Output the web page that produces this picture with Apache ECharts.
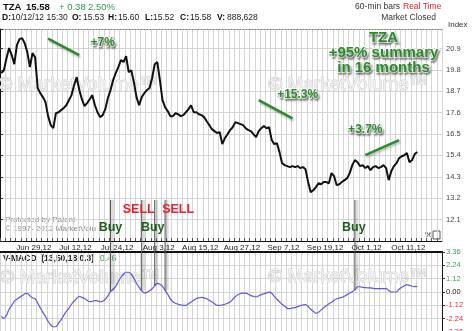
<!DOCTYPE html>
<html>
<head>
<meta charset="utf-8">
<script src="https://cdn.jsdelivr.net/npm/echarts@6/dist/echarts.min.js"></script>
<style>
html,body{margin:0;padding:0;background:#fff;}
#chart{width:474px;height:331px;}
</style>
</head>
<body>
<div id="chart"></div>
<script>
// Trading days shown on the chart (2012)
const tradingMonths = [
  ['Jun', [20,21,22,25,26,27,28,29]],
  ['Jul', [2,3,5,6,9,10,11,12,13,16,17,18,19,20,23,24,25,26,27,30,31]],
  ['Aug', [1,2,3,6,7,8,9,10,13,14,15,16,17,20,21,22,23,24,27,28,29,30,31]],
  ['Sep', [4,5,6,7,10,11,12,13,14,17,18,19,20,21,24,25,26,27,28]],
  ['Oct', [1,2,3,4,5,8,9,10,11,12,15,16,17,18,19]]
];
const dateLabels = ['Jun 29,12','Jul 12,12','Jul 24,12','Aug 3,12','Aug 15,12',
                    'Aug 27,12','Sep 7,12','Sep 19,12','Oct 1,12','Oct 11,12'];

// TZA close, two samples per session (from Jun 20 afternoon to Oct 12 close)
const tzaPrice = [
  19.63,19.78,20.40,20.92,20.56,20.09,21.07,21.38,21.43,21.17,
  20.71,19.94,20.66,20.45,18.86,18.60,18.40,18.14,17.42,16.96,
  16.80,17.57,17.62,17.73,17.83,17.98,18.24,18.50,19.01,19.42,
  18.76,18.29,17.93,18.09,18.29,18.50,17.98,17.62,17.37,17.47,
  17.78,18.35,18.76,19.27,19.63,19.94,20.30,20.20,20.50,19.68,
  19.78,19.17,18.40,17.98,18.40,18.60,18.76,18.86,19.37,20.09,
  20.20,19.27,18.24,17.88,17.68,17.42,17.42,17.57,17.52,17.42,
  17.47,17.62,17.78,17.98,17.62,17.62,17.52,17.47,17.37,17.16,
  16.96,16.75,16.65,16.55,16.60,15.98,16.29,16.49,16.70,16.85,
  17.11,17.06,17.01,16.96,16.80,16.70,16.65,16.49,16.34,16.65,
  16.80,16.91,16.80,16.85,16.19,15.98,16.03,15.57,15.00,14.90,
  14.85,14.80,14.85,14.80,14.85,14.75,14.80,14.69,14.03,13.51,
  13.61,13.77,13.97,13.92,14.03,14.03,13.97,14.49,14.33,13.87,
  13.92,14.03,14.13,14.23,14.49,14.90,15.16,15.05,14.85,14.90,
  14.75,14.85,14.64,14.80,14.85,14.75,14.80,14.90,14.75,14.13,
  14.59,14.85,15.00,15.26,15.36,15.41,15.52,15.05,15.16,15.47,
  15.58
];

// V-MACD (13,50,18,0.3) on the same samples
const vMacd = [
  -2.04,-2.21,-1.96,-1.45,-1.12,-0.78,-0.61,-0.45,-0.32,-0.15,
  -0.11,-0.32,-0.49,-0.57,-0.91,-1.33,-1.71,-2.04,-2.46,-2.76,
  -2.92,-2.92,-2.63,-2.34,-1.96,-1.62,-1.37,-1.03,-0.78,-0.53,
  -0.36,-0.45,-0.55,-0.70,-0.82,-0.78,-0.72,-0.74,-0.82,-0.78,
  -0.61,-0.32,0.05,0.23,0.48,0.86,1.24,1.49,1.66,1.66,
  1.49,1.15,0.71,0.39,0.10,-0.07,-0.03,0.10,0.27,0.52,
  0.73,0.65,0.48,0.14,-0.19,-0.57,-0.82,-0.95,-1.03,-1.08,
  -1.12,-1.12,-0.99,-0.84,-0.70,-0.55,-0.49,-0.45,-0.49,-0.57,
  -0.70,-0.84,-0.99,-1.12,-1.12,-1.08,-1.03,-0.95,-0.84,-0.61,
  -0.40,-0.24,-0.13,-0.09,-0.09,-0.19,-0.30,-0.36,-0.42,-0.32,
  -0.22,-0.15,-0.07,-0.01,-0.11,-0.36,-0.61,-0.82,-1.03,-1.20,
  -1.37,-1.39,-1.34,-1.31,-1.23,-1.14,-1.09,-1.06,-1.20,-1.45,
  -1.62,-1.79,-1.71,-1.50,-1.33,-1.16,-0.99,-0.87,-0.70,-0.57,
  -0.50,-0.45,-0.36,-0.22,-0.09,0.03,0.18,0.44,0.44,0.39,
  0.37,0.35,0.34,0.31,0.29,0.29,0.29,0.29,0.29,0.14,
  0.00,0.00,0.02,0.23,0.39,0.52,0.62,0.56,0.48,0.45,
  0.46
];

// Buy / SELL signals (sample index where V-MACD crosses zero)
const signalSlots = [42, 54, 59, 63, 136];
const signalKinds = ['Buy', 'SELL', 'Buy', 'SELL', 'Buy'];

// Move annotations: [sample, price] text anchors and arrows
const moveNotes = [
  { text: '+7%', at: [39, 21.19] },
  { text: '+15.3%', at: [114, 18.50] },
  { text: '+3.7%', at: [140, 16.70] },
  { text: 'TZA\n+95% summary\nin 16 months', at: [147, 20.66], big: true }
];
const moveArrows = [
  [[18, 21.41], [30, 20.56]],
  [[99, 18.24], [112, 17.30]],
  [[140, 15.41], [153, 16.19]]
];

// ---------- build categories: half-session samples ----------
const dayNames = [];
tradingMonths.forEach(([m, days]) => days.forEach(d => dayNames.push(m + ' ' + d + ',12')));
let slots = [];
dayNames.forEach(n => { slots.push(n + '|1'); slots.push(n + '|2'); });
slots = slots.slice(1, slots.length - 1);
const SLOT_COUNT = slots.length;

const FONT = '"Liberation Sans", Arial, sans-serif';
const GRID_LINE = '#d4d4d4';
const SIGNAL_TOP = 7.73;           // top of signal lines, in V-MACD units
const signalLabelDx = [0, -3, -2, 13, -1];

const chart = echarts.init(document.getElementById('chart'), null, { renderer: 'canvas' });

function txt(text, x, y, font, fill, align) {
  return {
    type: 'text', x: x, y: y, silent: true,
    style: { text: text, font: font + ' ' + FONT, fill: fill,
             align: align || 'left', verticalAlign: 'middle',
             textAlign: align || 'left', textVerticalAlign: 'middle' }
  };
}
function watermark(x, y) {
  return {
    type: 'text', x: x, y: y, silent: true, z: 3,
    style: { text: '\u00A9 MarketVolume\u2122', font: '19px ' + FONT,
             fill: '#f0f0f0', stroke: '#cdcdcd', lineWidth: 1,
             align: 'center', verticalAlign: 'middle',
             textAlign: 'center', textVerticalAlign: 'middle' }
  };
}

const noteLabel = (big) => ({
  show: true, position: 'inside', formatter: '{b}',
  color: '#2b8a2b', fontFamily: FONT, fontWeight: 'bold',
  fontSize: big ? 15 : 12, lineHeight: big ? 15 : 13, align: 'center',
  textBorderColor: '#ffffff', textBorderWidth: 2,
  textShadowColor: 'rgba(0,0,0,0.35)', textShadowBlur: 2,
  textShadowOffsetX: 1, textShadowOffsetY: 2
});

// daily vertical grid: one split line every two half-session samples
const daySplitLine = { show: true, interval: 1, lineStyle: { color: GRID_LINE, width: 1 } };

const option = {
  animation: false,
  backgroundColor: '#ffffff',
  textStyle: { fontFamily: FONT },
  grid: [
    { left: 0, right: 32, top: 29, bottom: 90, outerBoundsMode: 'none', containLabel: false },
    { left: 0, right: 32, top: 252, bottom: -1, outerBoundsMode: 'none', containLabel: false }
  ],
  xAxis: [
    {
      type: 'category', gridIndex: 0, data: slots, position: 'top', boundaryGap: true,
      axisLine: { onZero: false, lineStyle: { color: '#777', width: 1, type: [1, 2] } },
      axisTick: { show: false }, axisLabel: { show: false }, splitLine: daySplitLine
    },
    {
      // date strip under the price panel (half-session units)
      type: 'value', gridIndex: 0, position: 'bottom',
      min: 0, max: SLOT_COUNT, interval: 2,
      axisLine: { show: true, onZero: false, lineStyle: { color: '#111', width: 1 } },
      axisTick: { show: true, inside: true, length: 3, lineStyle: { color: '#555' } },
      axisLabel: {
        show: true, fontSize: 8, color: '#222', margin: 3, fontFamily: FONT,
        padding: [0, 5, 0, 0], showMinLabel: true, showMaxLabel: false,
        formatter: (v) => { const n = dayNames[Math.round(v / 2)]; return dateLabels.indexOf(n) >= 0 ? n : ''; }
      },
      splitLine: { show: false }
    },
    {
      type: 'category', gridIndex: 1, data: slots, position: 'top', boundaryGap: true,
      axisLine: { onZero: false, lineStyle: { color: '#111', width: 2 } },
      axisTick: { show: false }, axisLabel: { show: false }, splitLine: daySplitLine
    }
  ],
  yAxis: [
    {
      type: 'value', gridIndex: 0, position: 'right', min: 11, max: 21.9, interval: 1.1,
      axisLine: { show: true, lineStyle: { color: '#111' } },
      axisTick: { show: true, length: 3, lineStyle: { color: '#333' } },
      axisLabel: { fontSize: 7.5, color: '#444', margin: 4, fontFamily: FONT,
                   formatter: (v) => (v > 12 && v < 21) ? v.toFixed(1) : '' },
      splitLine: { show: true, lineStyle: { color: GRID_LINE } }
    },
    {
      type: 'value', gridIndex: 1, position: 'right', min: -3.36, max: 3.36, interval: 1.12,
      axisLine: { show: true, lineStyle: { color: '#111' } },
      axisTick: { show: true, length: 3, lineStyle: { color: '#333' } },
      axisLabel: { fontSize: 7.5, margin: 4, fontFamily: FONT,
                   formatter: (v) => (Math.abs(v) < 1e-6 ? 0 : v).toFixed(2),
                   color: (v) => { const n = parseFloat(v); return n > 0.001 ? '#3a9d5d' : (n < -0.001 ? '#e53030' : '#222'); } },
      splitLine: { show: true, lineStyle: { color: GRID_LINE } }
    }
  ],
  series: [
    {
      name: 'TZA', type: 'line', xAxisIndex: 0, yAxisIndex: 0, data: tzaPrice,
      symbol: 'none', z: 5,
      lineStyle: { color: '#111', width: 2 },
      markLine: {
        silent: true, symbol: ['none', 'arrow'], symbolSize: [0, 11],
        label: { show: false },
        lineStyle: { color: '#2b8a2b', width: 2.5, type: 'solid',
                     shadowColor: 'rgba(0,0,0,0.25)', shadowBlur: 2, shadowOffsetX: 1, shadowOffsetY: 2 },
        data: moveArrows.map(a => [{ coord: a[0] }, { coord: a[1] }])
      },
      markPoint: {
        silent: true, symbol: 'circle', symbolSize: 1,
        itemStyle: { color: 'rgba(0,0,0,0)' },
        data: moveNotes.map(n => ({ name: n.text, coord: n.at, label: noteLabel(n.big) }))
      }
    },
    {
      name: 'V-MACD', type: 'line', xAxisIndex: 2, yAxisIndex: 1, data: vMacd,
      symbol: 'none', smooth: 0.3, z: 5,
      lineStyle: { color: '#5a5ad8', width: 1.2 }
    },
    {
      name: 'signals', type: 'custom', xAxisIndex: 2, yAxisIndex: 1, clip: false, z: 6,
      data: signalSlots.map((s, i) => [s, vMacd[s], i]),
      renderItem: function (params, api) {
        const idx = api.value(2);
        const bottom = api.coord([api.value(0), api.value(1)]);
        const top = api.coord([api.value(0), SIGNAL_TOP]);
        const kind = signalKinds[idx];
        const isBuy = kind === 'Buy';
        return {
          type: 'group',
          children: [
            { type: 'rect', shape: { x: top[0] + 0.5, y: top[1], width: 3, height: bottom[1] - top[1] },
              style: { fill: 'rgba(0,0,0,0.13)' } },
            { type: 'line', shape: { x1: top[0], y1: top[1], x2: top[0], y2: bottom[1] },
              style: { stroke: '#555', lineWidth: 1 } },
            { type: 'text', x: top[0] + signalLabelDx[idx], y: top[1] + (isBuy ? 28 : 10),
              style: { text: kind, font: 'bold 12.5px ' + FONT, fill: isBuy ? '#1d5e1d' : '#e8202a',
                       align: 'center', verticalAlign: 'middle',
                       shadowColor: 'rgba(0,0,0,0.35)', shadowBlur: 2, shadowOffsetX: 2, shadowOffsetY: 2 } }
          ]
        };
      }
    }
  ],
  graphic: [
    watermark(78, 85), watermark(348, 85), watermark(80, 278), watermark(348, 277),
    txt('TZA', 3, 7, 'bold 9.5px', '#111'),
    txt('15.58', 26, 7, 'bold 9.5px', '#111'),
    txt('+ 0.38', 59, 7, '9.5px', '#2e9a48'),
    txt('2.50%', 88, 7, '9.5px', '#2e9a48'),
    txt('D:', 2, 17.5, 'bold 8.5px', '#111'),
    txt('10/12/12 15:30', 11, 17.5, '8.5px', '#222'),
    txt('O:', 72, 17.5, 'bold 8.5px', '#111'),
    txt('15.53', 83, 17.5, '8.5px', '#222'),
    txt('H:', 108, 17.5, 'bold 8.5px', '#111'),
    txt('15.60', 118, 17.5, '8.5px', '#222'),
    txt('L:', 145, 17.5, 'bold 8.5px', '#111'),
    txt('15.52', 153, 17.5, '8.5px', '#222'),
    txt('C:', 180, 17.5, 'bold 8.5px', '#111'),
    txt('15.58', 190, 17.5, '8.5px', '#222'),
    txt('V:', 217, 17.5, 'bold 8.5px', '#111'),
    txt('888,628', 227, 17.5, '8.5px', '#222'),
    txt('60-min bars', 400, 7, '8.5px', '#333', 'right'),
    txt('Real Time', 403, 7, '8.5px', '#e8202a'),
    txt('Market Closed', 436, 17.5, '8.5px', '#333', 'right'),
    txt('Index', 448, 25, '8px', '#333'),
    txt('Protected by Patent', 5, 220, '8px', '#8a8a8a'),
    txt('\u00A9 1997- 2012 MarketVolu', 5, 229, '8px', '#8a8a8a'),
    txt('%', 425, 235, '8px', '#333'),
    { type: 'rect', silent: true, shape: { x: 433, y: 231, width: 7, height: 8 },
      style: { fill: 'none', stroke: '#555', lineWidth: 1 } },
    txt('V-MACD  (13,50,18,0.3)', 3, 259, 'bold 8.5px', '#222'),
    txt('0.46', 100, 259, '8.5px', '#3a9d5d')
  ]
};
chart.setOption(option);
</script>
</body>
</html>
